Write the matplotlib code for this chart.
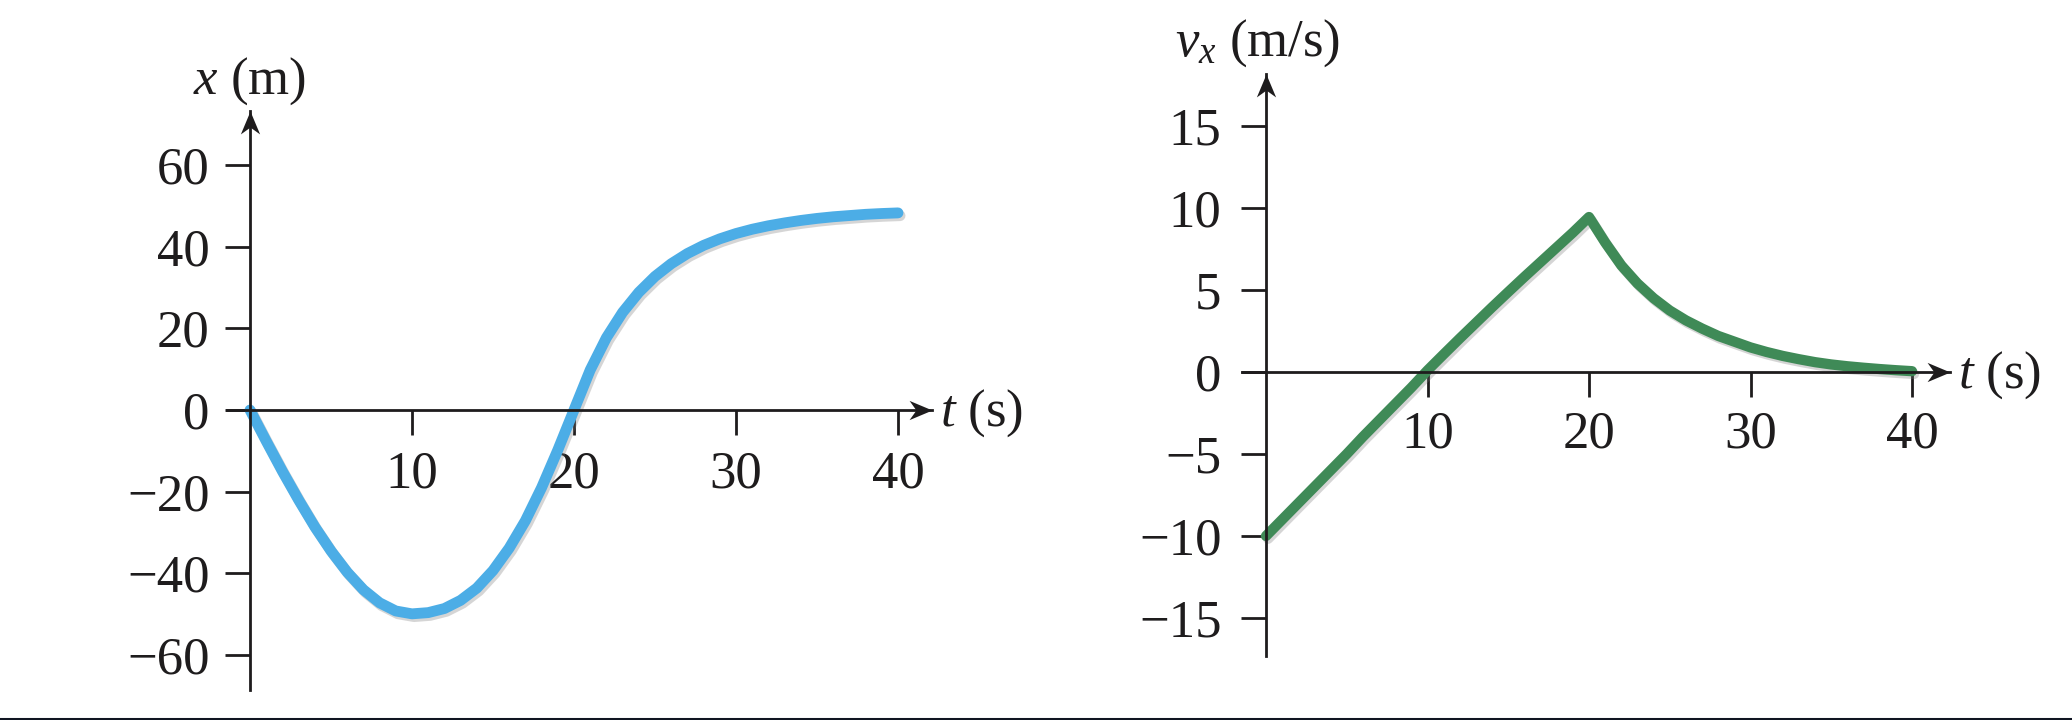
import matplotlib
matplotlib.use('Agg')
import matplotlib.pyplot as plt
import matplotlib.patheffects as pe
from matplotlib.path import Path
from matplotlib.lines import Line2D

# ---------------- data ----------------
# position vs time
t_pos = list(range(0, 41))
x_pos = [0, -7.6, -15.0, -22.0, -28.6, -34.5, -39.7, -44.0, -47.2, -49.2,
         -49.9, -49.6, -48.6, -46.6, -43.6, -39.3, -33.8, -27.1, -19.0, -9.8,
         0, 9.8, 17.7, 23.9, 28.8, 32.7, 35.8, 38.3, 40.3, 41.9,
         43.2, 44.25, 45.1, 45.8, 46.4, 46.9, 47.3, 47.6, 47.9, 48.1, 48.25]

# velocity vs time
t_vel = list(range(0, 41))
v_vel = [-10, -9.0, -8.0, -7.0, -6.0, -5.0, -3.95, -2.95, -1.95, -0.95,
         0.1, 1.08, 2.05, 3.0, 3.95, 4.88, 5.8, 6.7, 7.6, 8.5,
         9.45, 7.9, 6.5, 5.4, 4.5, 3.75, 3.15, 2.65, 2.2, 1.85,
         1.5, 1.22, 0.98, 0.78, 0.6, 0.46, 0.35, 0.26, 0.18, 0.11, 0.05]

pos_yticks = [60, 40, 20, 0, -20, -40, -60]
vel_yticks = [15, 10, 5, 0, -5, -10, -15]
t_ticks = [10, 20, 30, 40]

# ---------------- style ----------------
W, H = 2072, 720
INK = '#1e1c1d'
BLUE = '#4cade6'
GREEN = '#3f8a57'
FS = 38
LW_AX = 2.0

plt.rcParams.update({
    'font.family': 'Liberation Serif',
    'mathtext.fontset': 'custom',
    'mathtext.rm': 'Liberation Serif',
    'mathtext.it': 'Liberation Serif:italic',
    'font.size': FS,
})

arrow_right = Path([(0, 0), (-1, 0.42), (-0.7, 0), (-1, -0.42), (0, 0)],
                   [Path.MOVETO, Path.LINETO, Path.LINETO, Path.LINETO, Path.CLOSEPOLY])
arrow_up = Path([(0, 0), (0.42, -1), (0, -0.7), (-0.42, -1), (0, 0)],
                [Path.MOVETO, Path.LINETO, Path.LINETO, Path.LINETO, Path.CLOSEPOLY])


def fmt(v):
    return ('\u2212%d' % -v) if v < 0 else '%d' % v


def place_axes(fig, x0, y0, sx, sy, xlim, ylim):
    # x0, y0: pixel of data origin (from top-left), sx, sy: pixels per unit
    left = x0 + xlim[0] * sx
    right = x0 + xlim[1] * sx
    top = y0 - ylim[1] * sy
    bottom = y0 - ylim[0] * sy
    ax = fig.add_axes([left / W, 1 - bottom / H, (right - left) / W, (bottom - top) / H])
    ax.set_xlim(xlim)
    ax.set_ylim(ylim)
    return ax


def style_axes(ax, yticks, ylabel, ypad, xpad, ylab_dx):
    ax.patch.set_visible(False)
    for s in ['top', 'right']:
        ax.spines[s].set_visible(False)
    for s in ['left', 'bottom']:
        ax.spines[s].set_position(('data', 0))
        ax.spines[s].set_linewidth(LW_AX)
        ax.spines[s].set_color(INK)
    ax.set_xticks(t_ticks)
    ax.set_xticklabels([fmt(v) for v in t_ticks])
    ax.set_yticks(yticks)
    ax.set_yticklabels([fmt(v) for v in yticks])
    ax.tick_params(direction='out', length=18, width=LW_AX, color=INK,
                   labelsize=FS, labelcolor=INK)
    ax.tick_params(axis='y', pad=ypad)
    ax.tick_params(axis='x', pad=xpad)
    ax.plot(1, 0, marker=arrow_right, ms=33, color=INK, mew=0,
            transform=ax.get_yaxis_transform(), clip_on=False, zorder=3)
    ax.plot(0, 1, marker=arrow_up, ms=33, color=INK, mew=0,
            transform=ax.get_xaxis_transform(), clip_on=False, zorder=3)
    ax.annotate(ylabel, xy=(0, 1), xycoords=ax.get_xaxis_transform(),
                xytext=(ylab_dx, 3), textcoords='offset points',
                ha='center', va='bottom', color=INK, fontsize=FS)
    ax.annotate(r'$t$ (s)', xy=(1, 0), xycoords=ax.get_yaxis_transform(),
                xytext=(6, -2), textcoords='offset points',
                ha='left', va='center', color=INK, fontsize=FS)


shadow = [pe.SimpleLineShadow(offset=(1.5, -2), shadow_color='#777777', alpha=0.3),
          pe.Normal()]

fig = plt.figure(figsize=(W / 100, H / 100), dpi=100)

# left: x(t)
ax1 = place_axes(fig, 250, 410, 16.2, 4.085, (-1.45, 42.1), (-68.5, 73.2))
ax1.plot(t_pos, x_pos, color=BLUE, lw=7.8, solid_capstyle='round',
         solid_joinstyle='round', path_effects=shadow, clip_on=False)
style_axes(ax1, pos_yticks, r'$x$ (m)', 11, 11.5, 0)

# right: v_x(t)
ax2 = place_axes(fig, 1266, 372, 16.15, 16.4, (-1.49, 42.35), (-17.3, 18.2))
ax2.plot(t_vel, v_vel, color=GREEN, lw=7.4, solid_capstyle='round',
         solid_joinstyle='round', path_effects=shadow, clip_on=False)
style_axes(ax2, vel_yticks, r'$v_x$ (m/s)', 14, 9.5, -6)

# dark rule along the bottom edge
fig.add_artist(Line2D([0, 1], [1.5 / H, 1.5 / H], lw=2.2, color='#101522',
                      transform=fig.transFigure))

fig.savefig('out.png', dpi=100)
